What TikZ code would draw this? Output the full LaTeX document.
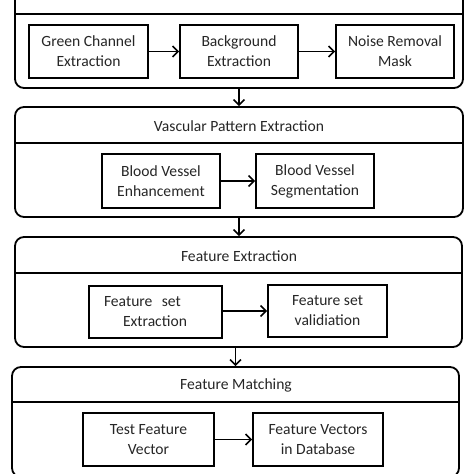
\documentclass[tikz,border=0pt]{standalone}
\usepackage{fontspec}
\setmainfont{Carlito}
\usetikzlibrary{arrows.meta}
\begin{document}
\begin{tikzpicture}[x=1bp,y=-1bp,
  every node/.style={font=\fontsize{15.6bp}{20bp}\selectfont, inner sep=0pt, text=black!85},
  group/.style={draw, line width=1.8bp, rounded corners=9bp, minimum width=448bp, minimum height=110bp},
  stepbox/.style={draw, line width=1.8bp, minimum height=53bp, align=center},
  hdrline/.style={line width=2.8bp},
  flow/.style={line width=1.5bp, -{Straight Barb[length=5.5bp,width=11bp,line width=1.5bp]}}]
\useasboundingbox (0,0) rectangle (474,474);
\clip (0,0) rectangle (474,474);

% ---------- group 1 : Preprocessing ----------
\node[group] (g1) at (239,33) {};
\coordinate (h1) at (0,14);
\draw[hdrline] (g1.west |- h1) -- (g1.east |- h1);
\node (t1) at (239,-6.5) {Preprocessing};
\node[stepbox, minimum width=119bp] (gc) at (88.5,51.5) {Green Channel\\Extraction};
\node[stepbox, minimum width=118bp] (bg) at (239,51.5) {Background\\Extraction};
\node[stepbox, minimum width=118bp] (nr) at (395,51.5) {Noise Removal\\Mask};
\draw[flow] (gc) -- (bg);
\draw[flow] (bg) -- (nr);

% ---------- group 2 : Vascular Pattern Extraction ----------
\node[group] (g2) at (239,162) {};
\coordinate (h2) at (0,143);
\draw[hdrline] (g2.west |- h2) -- (g2.east |- h2);
\node (t2) at (239,126) {Vascular Pattern Extraction};
\node[stepbox, minimum width=118bp, minimum height=54bp] (bve) at (161,181) {Blood Vessel\\Enhancement};
\node[stepbox, minimum width=118bp, minimum height=54bp] (bvs) at (315,181) {Blood Vessel\\Segmentation};
\draw[flow] (bve) -- (bvs);

% ---------- group 3 : Feature Extraction ----------
\node[group, minimum width=447bp] (g3) at (238.5,292) {};
\coordinate (h3) at (0,273);
\draw[hdrline] (g3.west |- h3) -- (g3.east |- h3);
\node (t3) at (239,256) {Feature Extraction};
\node[stepbox, minimum width=133bp, minimum height=52bp, text width=103bp, align=left] (fse) at (155.5,312)
  {Feature\hspace{0.6em}set\\\hspace*{19bp}Extraction};
\node[stepbox, minimum width=119bp, minimum height=52bp] (fsv) at (327.5,311) {Feature set\\validiation};
\draw[flow] (fse.east |- fsv) -- (fsv);

% ---------- group 4 : Feature Matching ----------
\node[group, minimum width=447bp] (g4) at (235.5,422) {};
\coordinate (h4) at (0,402);
\draw[hdrline] (g4.west |- h4) -- (g4.east |- h4);
\node (t4) at (236,385) {Feature Matching};
\node[stepbox, minimum width=131bp] (tfv) at (148.5,439.5) {Test Feature\\Vector};
\node[stepbox, minimum width=130bp] (fvd) at (318,439.5) {Feature Vectors\\in Database};
\draw[flow] (tfv) -- (fvd);

% ---------- connectors between groups ----------
\draw[flow] (g1.south) -- (g2.north);
\draw[flow] (g2.south) -- (g2.south |- g3.north);
\draw[flow] (g4.north |- g3.south) -- (g4.north);
\end{tikzpicture}
\end{document}
